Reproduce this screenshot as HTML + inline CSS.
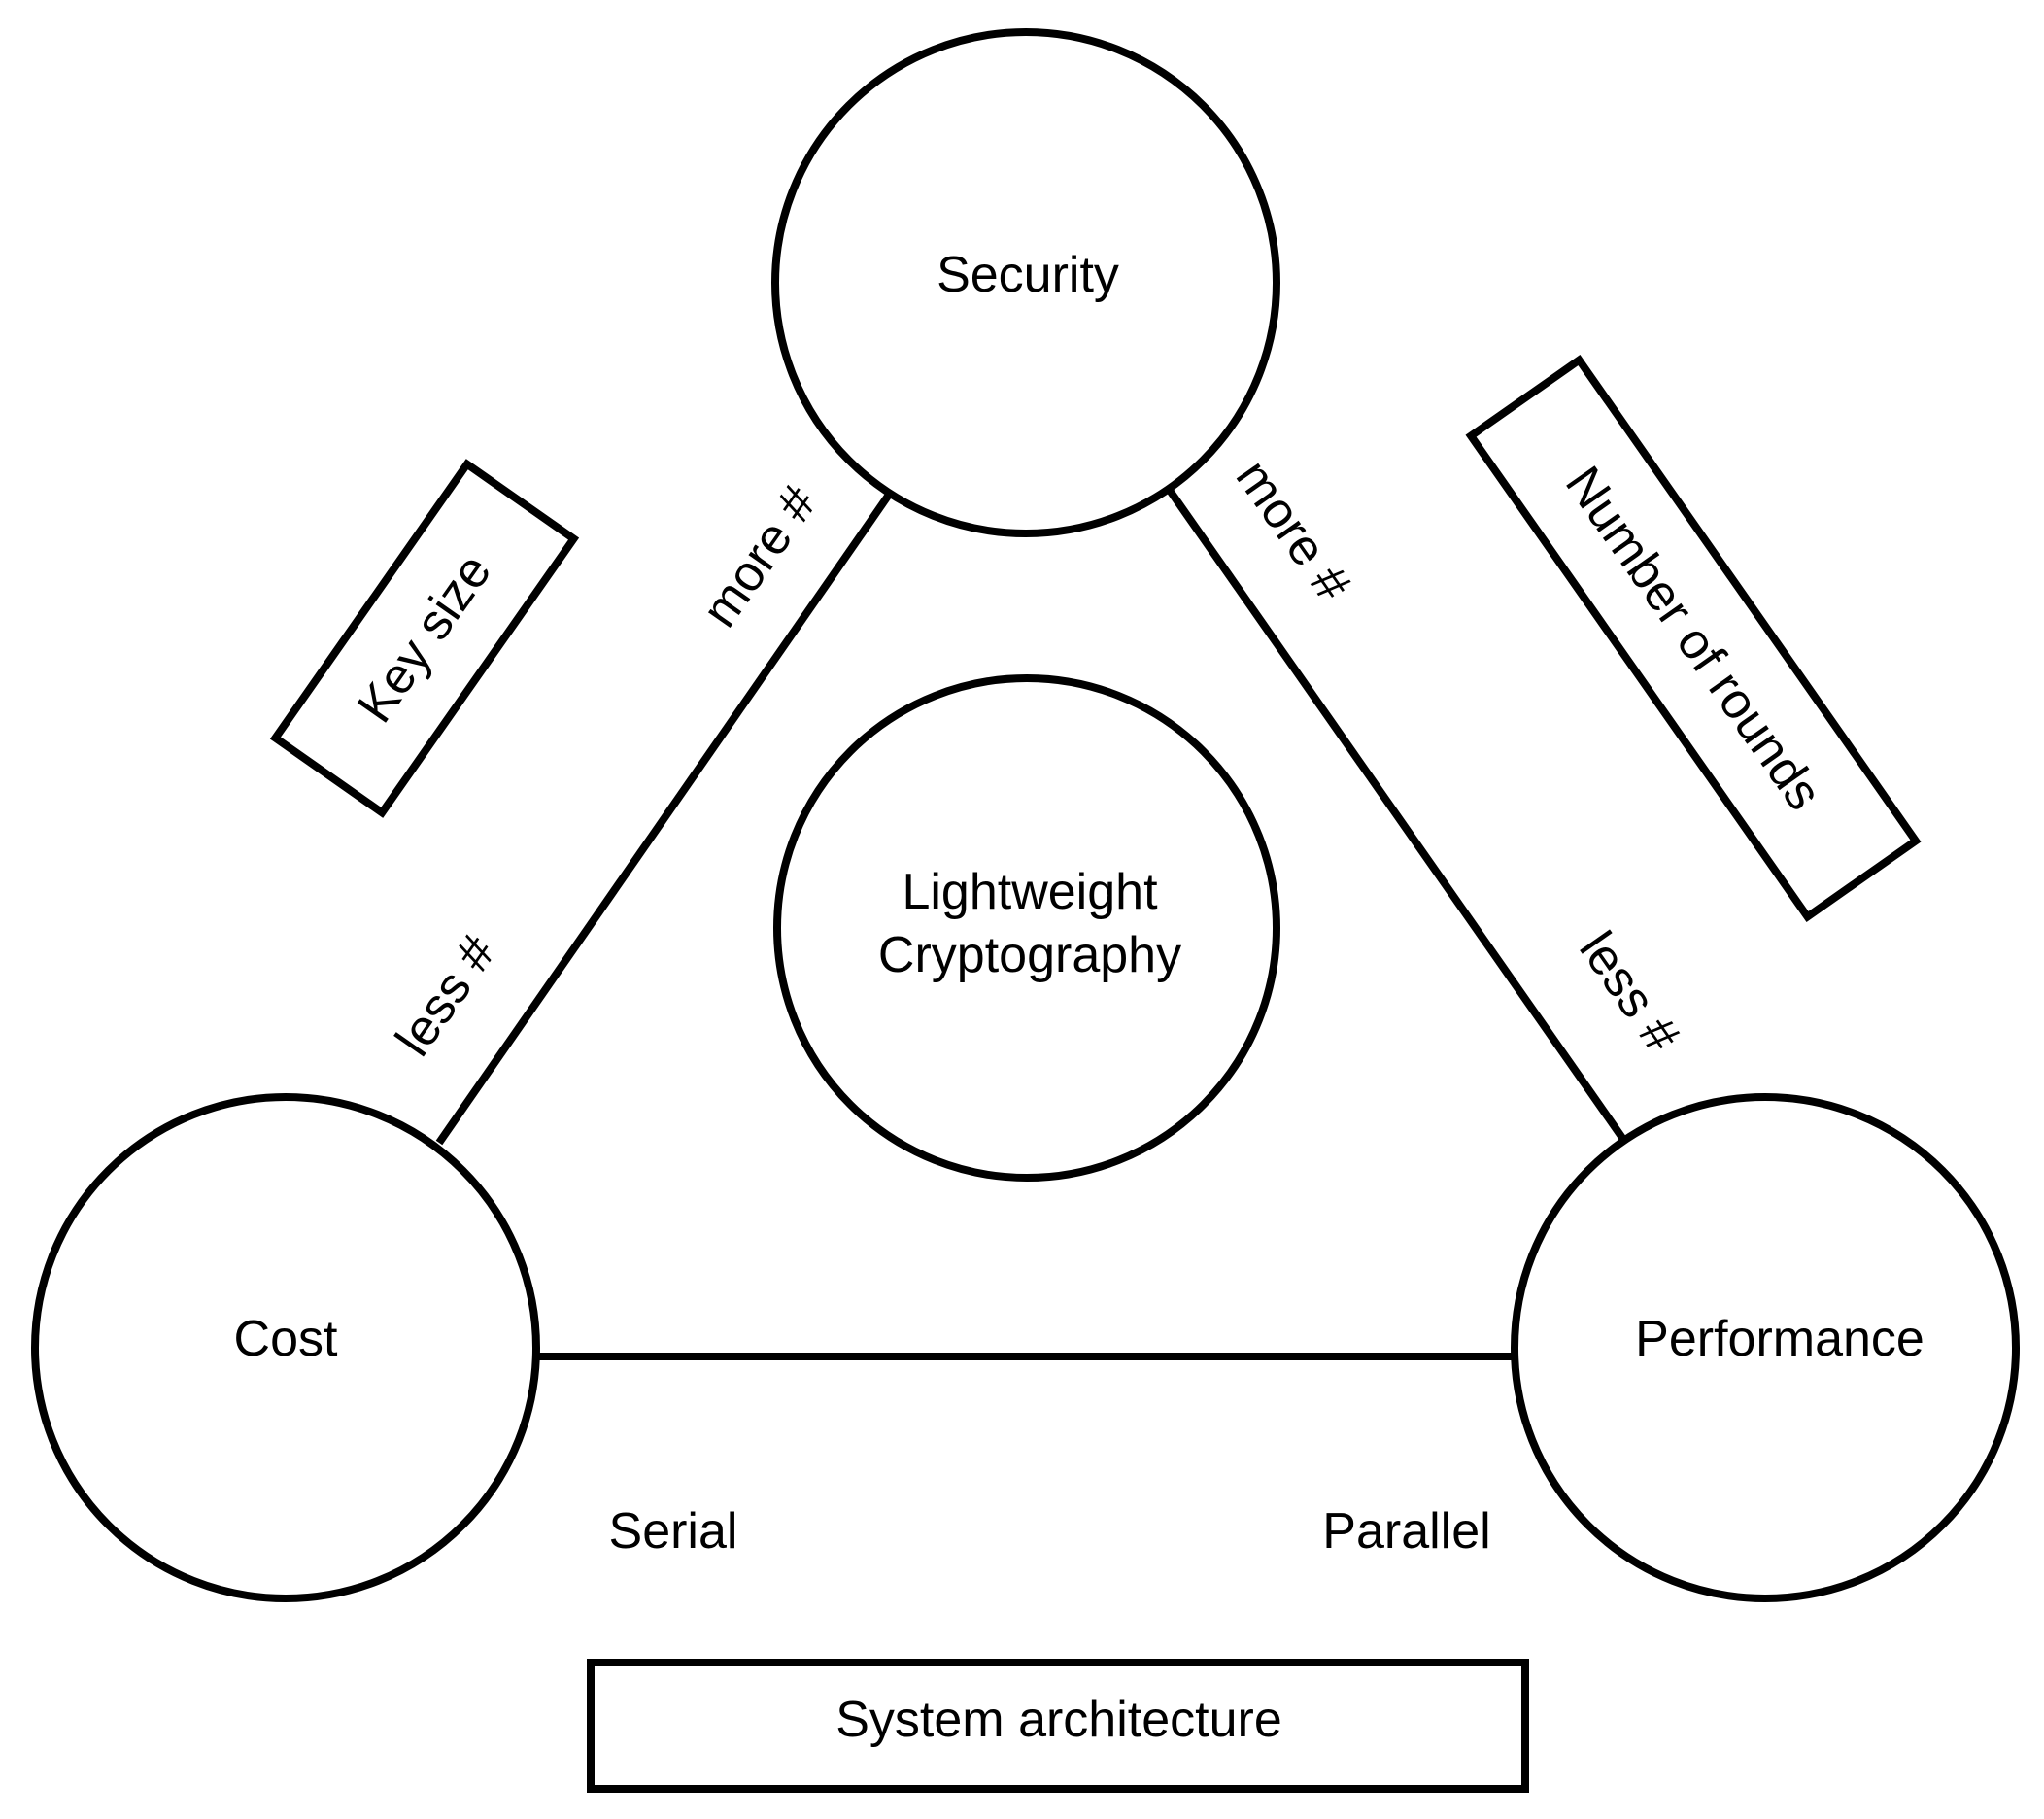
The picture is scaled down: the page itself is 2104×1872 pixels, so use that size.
<!DOCTYPE html>
<html><head><meta charset="utf-8"><style>html,body{margin:0;padding:0;background:#fff}svg{display:block}</style></head>
<body>
<svg width="2104" height="1872" viewBox="0 0 2104 1872" xmlns="http://www.w3.org/2000/svg" font-family="Liberation Sans, Arial, sans-serif" font-size="52" fill="#000">
<g fill="none" stroke="#000" stroke-width="8">
<circle cx="1056" cy="291" r="258"/>
<circle cx="1057" cy="955" r="257"/>
<circle cx="294" cy="1387" r="258"/>
<circle cx="1817" cy="1387" r="258"/>
<line x1="452" y1="1176" x2="915" y2="509"/>
<line x1="1205" y1="506" x2="1670" y2="1171"/>
<line x1="553" y1="1396" x2="1558" y2="1396"/>
<rect x="608" y="1711" width="962" height="130"/>
<rect x="-172" y="-67" width="344" height="134" transform="translate(437,657) rotate(-55)"/>
<rect x="-302" y="-68" width="604" height="136" transform="translate(1743,657) rotate(55)"/>
</g>
<g text-anchor="middle" dominant-baseline="central">
<text x="1058" y="283">Security</text>
<text x="1060" y="918">Lightweight</text>
<text x="1060" y="983">Cryptography</text>
<text x="294" y="1378">Cost</text>
<text x="1832" y="1378">Performance</text>
<text x="693" y="1576">Serial</text>
<text x="1448" y="1576">Parallel</text>
<text x="1090" y="1770">System architecture</text>
<text transform="translate(437,657) rotate(-55)">Key size</text>
<text transform="translate(1743,657) rotate(55)">Number of rounds</text>
<text transform="translate(782,573) rotate(-55)">more #</text>
<text transform="translate(459,1025) rotate(-55)">less #</text>
<text transform="translate(1331,546) rotate(55)">more #</text>
<text transform="translate(1677,1021) rotate(55)">less #</text>
</g>
</svg>
</body></html>
